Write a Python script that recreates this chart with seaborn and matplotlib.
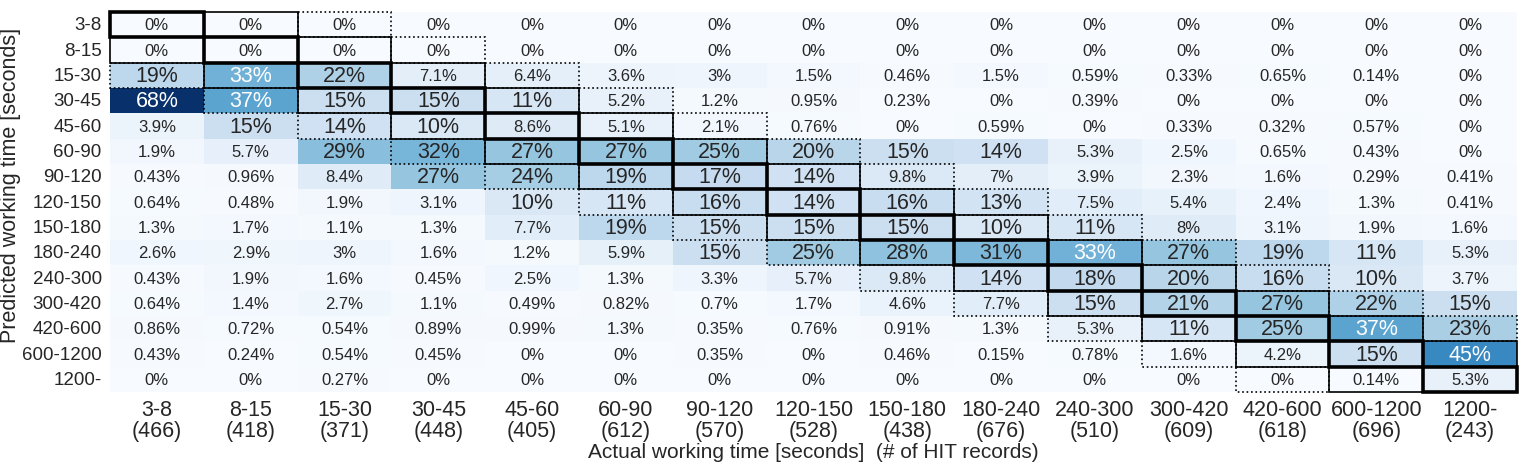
import numpy as np
import pandas as pd
import matplotlib
matplotlib.use("Agg")
import matplotlib.pyplot as plt
from matplotlib.patches import Rectangle
import seaborn as sns

bins = ["3-8", "8-15", "15-30", "30-45", "45-60", "60-90", "90-120", "120-150",
        "150-180", "180-240", "240-300", "300-420", "420-600", "600-1200", "1200-"]
hit_counts = [466, 418, 371, 448, 405, 612, 570, 528, 438, 676, 510, 609, 618, 696, 243]

# rows = predicted bin, columns = actual bin, values in percent of column
pred_3_8 = [0, 0, 0, 0, 0, 0, 0, 0, 0, 0, 0, 0, 0, 0, 0]
pred_8_15 = [0, 0, 0, 0, 0, 0, 0, 0, 0, 0, 0, 0, 0, 0, 0]
pred_15_30 = [19, 33, 22, 7.1, 6.4, 3.6, 3, 1.5, 0.46, 1.5, 0.59, 0.33, 0.65, 0.14, 0]
pred_30_45 = [68, 37, 15, 15, 11, 5.2, 1.2, 0.95, 0.23, 0, 0.39, 0, 0, 0, 0]
pred_45_60 = [3.9, 15, 14, 10, 8.6, 5.1, 2.1, 0.76, 0, 0.59, 0, 0.33, 0.32, 0.57, 0]
pred_60_90 = [1.9, 5.7, 29, 32, 27, 27, 25, 20, 15, 14, 5.3, 2.5, 0.65, 0.43, 0]
pred_90_120 = [0.43, 0.96, 8.4, 27, 24, 19, 17, 14, 9.8, 7, 3.9, 2.3, 1.6, 0.29, 0.41]
pred_120_150 = [0.64, 0.48, 1.9, 3.1, 10, 11, 16, 14, 16, 13, 7.5, 5.4, 2.4, 1.3, 0.41]
pred_150_180 = [1.3, 1.7, 1.1, 1.3, 7.7, 19, 15, 15, 15, 10, 11, 8, 3.1, 1.9, 1.6]
pred_180_240 = [2.6, 2.9, 3, 1.6, 1.2, 5.9, 15, 25, 28, 31, 33, 27, 19, 11, 5.3]
pred_240_300 = [0.43, 1.9, 1.6, 0.45, 2.5, 1.3, 3.3, 5.7, 9.8, 14, 18, 20, 16, 10, 3.7]
pred_300_420 = [0.64, 1.4, 2.7, 1.1, 0.49, 0.82, 0.7, 1.7, 4.6, 7.7, 15, 21, 27, 22, 15]
pred_420_600 = [0.86, 0.72, 0.54, 0.89, 0.99, 1.3, 0.35, 0.76, 0.91, 1.3, 5.3, 11, 25, 37, 23]
pred_600_1200 = [0.43, 0.24, 0.54, 0.45, 0, 0, 0.35, 0, 0.46, 0.15, 0.78, 1.6, 4.2, 15, 45]
pred_1200 = [0, 0, 0.27, 0, 0, 0, 0, 0, 0, 0, 0, 0, 0, 0.14, 5.3]

rows = [pred_3_8, pred_8_15, pred_15_30, pred_30_45, pred_45_60, pred_60_90,
        pred_90_120, pred_120_150, pred_150_180, pred_180_240, pred_240_300,
        pred_300_420, pred_420_600, pred_600_1200, pred_1200]

xlabels = [f"{b}\n({n})" for b, n in zip(bins, hit_counts)]
df = pd.DataFrame(rows, index=bins, columns=xlabels)
annot = df.map(lambda v: f"{v:.2g}%")

sns.set_style("white")
plt.rcParams["font.family"] = ["Liberation Sans", "DejaVu Sans"]

fig = plt.figure(figsize=(15.3, 4.77), dpi=100)
ax = fig.add_axes([0.0719, 0.176, 0.9196, 0.7967])

sns.heatmap(df, cmap="Blues", vmin=0, vmax=68, annot=annot, fmt="", cbar=False,
            ax=ax, annot_kws={"fontsize": 12})

# bigger text for two-digit percentages, white text on dark cells
vals = df.values.ravel()
for t, v in zip(ax.texts, vals):
    if v >= 10:
        t.set_fontsize(15.5)
    t.set_color("white" if v >= 33 else "#262626")

# boxes: diagonal thick, +-1 thin, +-2 dotted
n = len(bins)
for off, lw, ls in [(2, 1.2, ":"), (1, 1.2, "-"), (0, 2.6, "-")]:
    for j in range(n):
        for i in sorted({j - off, j + off}):
            if 0 <= i < n:
                ax.add_patch(Rectangle((j, i), 1, 1, fill=False, ec="black",
                                       lw=lw, ls=ls, clip_on=False, zorder=3))

ax.set_ylabel("Predicted working time [seconds]", fontsize=15.5)
ax.yaxis.set_label_coords(-0.063, 0.545)
ax.set_xlabel("Actual working time [seconds]  (# of HIT records)", fontsize=15, labelpad=1)
ax.tick_params(axis="y", length=0, labelsize=13.5, pad=6)
ax.tick_params(axis="x", length=0, labelsize=15.5, pad=5)
plt.setp(ax.get_yticklabels(), rotation=0)
plt.setp(ax.get_xticklabels(), rotation=0, linespacing=1.0)

fig.savefig("out.png", dpi=100)
